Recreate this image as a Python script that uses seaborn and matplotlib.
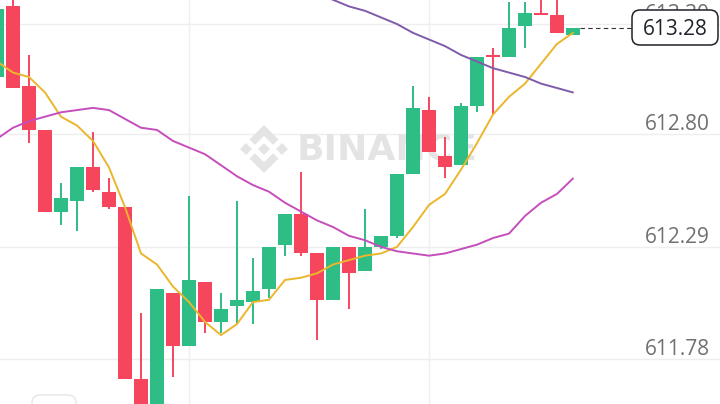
import numpy as np
import pandas as pd
import matplotlib
matplotlib.use("Agg")
import matplotlib.pyplot as plt
import matplotlib.transforms as mtransforms
from matplotlib.patches import Polygon, FancyBboxPatch
import seaborn as sns

# ---- data ----
opens = [613.06, 613.38, 613.02, 612.82, 612.45, 612.50, 612.65, 612.54, 612.47, 611.69,
         611.48, 612.08, 611.84, 612.13, 611.95, 612.02, 612.04, 612.10, 612.30, 612.44,
         612.26, 612.05, 612.29, 612.18, 612.29, 612.34, 612.62, 612.91, 612.70, 612.66,
         612.93, 613.16, 613.15, 613.29, 613.35, 613.34, 613.25]
highs = [613.37, 613.43, 613.16, 612.82, 612.58, 612.65, 612.81, 612.60, 612.47, 611.99,
         612.10, 612.08, 612.52, 612.13, 612.08, 612.50, 612.24, 612.29, 612.44, 612.63,
         612.26, 612.29, 612.29, 612.46, 612.34, 612.62, 613.02, 612.97, 612.79, 612.94,
         613.15, 613.19, 613.40, 613.40, 613.44, 613.44, 613.28]
lows = [613.06, 613.01, 612.76, 612.45, 612.39, 612.36, 612.54, 612.46, 611.69, 611.50,
        611.47, 611.70, 611.84, 611.90, 611.90, 611.94, 611.94, 612.06, 612.25, 612.25,
        611.87, 612.05, 612.01, 612.18, 612.28, 612.33, 612.62, 612.72, 612.60, 612.66,
        612.90, 612.89, 613.15, 613.19, 613.34, 613.26, 613.25]
closes = [613.37, 613.01, 612.82, 612.45, 612.51, 612.65, 612.55, 612.47, 611.69, 611.51,
          612.10, 611.84, 612.14, 611.95, 612.01, 612.05, 612.09, 612.29, 612.44, 612.26,
          612.05, 612.29, 612.17, 612.29, 612.34, 612.62, 612.92, 612.72, 612.65, 612.93,
          613.15, 613.15, 613.28, 613.35, 613.34, 613.26, 613.28]
ma7 = [613.13, 613.08, 613.06, 612.99, 612.88, 612.84, 612.77, 612.65, 612.47, 612.26,
       612.21, 612.11, 612.04, 611.95, 611.89, 611.94, 612.04, 612.05, 612.14, 612.15,
       612.17, 612.21, 612.23, 612.25, 612.26, 612.29, 612.38, 612.48, 612.53, 612.64,
       612.76, 612.89, 612.97, 613.03, 613.12, 613.21, 613.26]
ma25 = [612.78, 612.83, 612.86, 612.88, 612.90, 612.91, 612.92, 612.91, 612.87, 612.83,
        612.82, 612.77, 612.74, 612.71, 612.66, 612.61, 612.57, 612.54, 612.49, 612.45,
        612.41, 612.38, 612.34, 612.32, 612.29, 612.27, 612.26, 612.25, 612.26, 612.28,
        612.30, 612.33, 612.35, 612.43, 612.49, 612.53, 612.60]
ma99_start = 19
ma99 = [613.46, 613.44, 613.41, 613.38, 613.36, 613.33, 613.30, 613.26, 613.23, 613.20,
        613.16, 613.13, 613.10, 613.08, 613.06, 613.03, 613.01, 612.99]
price_ticks = [611.78, 612.29, 612.80, 613.30]
price_labels = ["611.78", "612.29", "612.80", "613.30"]
time_grid = [12, 27]

UP, DOWN = "#2EBD85", "#F6465D"
C7, C25, C99 = "#EBB62C", "#C54EBC", "#7F5CAA"

sns.set_theme(style="white")
plt.rcParams['font.family'] = ['Open Sans', 'DejaVu Sans']

n = len(opens)
pos = np.arange(n)
df = pd.DataFrame({"pos": pos, "open": opens, "high": highs, "low": lows,
                   "close": closes, "ma7": ma7, "ma25": ma25})
df99 = pd.DataFrame({"pos": np.arange(ma99_start, ma99_start + len(ma99)), "ma99": ma99})

W, H = 720, 404
fig = plt.figure(figsize=(W / 100, H / 100), dpi=100)
ax = fig.add_axes([0, 0, 1, 1])
for s in ax.spines.values():
    s.set_visible(False)

ident = mtransforms.IdentityTransform()

# watermark (below the candles)
cx, cy, r = 264, H - 149, 24
def shape(pts):
    return [(cx + r * u, cy + r * v) for u, v in pts]
wm = "#E4E4E4"
logo = [
    [(0, 0.25), (0.25, 0), (0, -0.25), (-0.25, 0)],
    [(0.75, 0.25), (1.0, 0), (0.75, -0.25), (0.5, 0)],
    [(-0.75, 0.25), (-0.5, 0), (-0.75, -0.25), (-1.0, 0)],
    [(0, 1), (0.6, 0.4), (0.375, 0.175), (0, 0.55), (-0.375, 0.175), (-0.6, 0.4)],
    [(0, -1), (0.6, -0.4), (0.375, -0.175), (0, -0.55), (-0.375, -0.175), (-0.6, -0.4)],
]
for p in logo:
    ax.add_patch(Polygon(shape(p), closed=True, fc=wm, ec="none",
                         transform=ident, zorder=1, clip_on=False))
ax.text(297 / W, 1 - 150 / H, "BINANCE", family="DejaVu Sans", weight="bold",
        fontsize=26, color=wm, ha="left", va="center", zorder=1,
        transform=ax.transAxes)

# candles
up = df["close"] >= df["open"]
cols = np.where(up, UP, DOWN)
bottoms = np.minimum(df["open"], df["close"])
heights = np.maximum(np.abs(df["close"] - df["open"]), 0.006)
ax.vlines(df["pos"], df["low"], df["high"], colors=cols, lw=1.4, zorder=2.5)
ax.bar(df["pos"], heights, bottom=bottoms, width=0.82, color=cols, lw=0, zorder=3)

# moving averages
sns.lineplot(data=df, x="pos", y="ma7", ax=ax, color=C7, lw=1.4, zorder=4)
sns.lineplot(data=df, x="pos", y="ma25", ax=ax, color=C25, lw=1.4, zorder=4)
sns.lineplot(data=df99, x="pos", y="ma99", ax=ax, color=C99, lw=1.4, zorder=4)

ax.set_xlim(0.1875, 45.1875)
ax.set_ylim(611.5777, 613.409)
ax.set_xlabel("")
ax.set_ylabel("")

# grid
ax.set_yticks(price_ticks)
ax.set_xticks(time_grid)
ax.set_yticklabels([])
ax.set_xticklabels([])
ax.tick_params(length=0)
ax.grid(True, color="#EEEEEE", lw=1)
ax.set_axisbelow(True)

# price axis labels (inside the plot, right side)
blend = mtransforms.blended_transform_factory(ax.transAxes, ax.transData)
for v, lab in zip(price_ticks, price_labels):
    ax.annotate(lab, xy=(1, v), xycoords=blend, xytext=(-10, 4),
                textcoords="offset pixels", ha="right", va="baseline",
                fontsize=15, color="#707070", zorder=5)

# current price line and tag
last = closes[-1]
ax.axhline(last, xmin=580 / W, xmax=632 / W, color="#333333", lw=0.8,
           ls=(0, (4, 3)), zorder=5)
ax.add_patch(FancyBboxPatch((632, H - 45), 86, 35,
                            boxstyle="round,pad=0,rounding_size=8",
                            fc="white", ec="#1E2329", lw=1.1,
                            transform=ident, zorder=6, clip_on=False))
ax.annotate(f"{last:.2f}", xy=(675.5 / W, last), xycoords=blend, xytext=(0, -7),
            textcoords="offset pixels", ha="center", va="baseline",
            fontsize=15, color="#1E2329", zorder=7)

# partial time tag at the bottom
ax.add_patch(FancyBboxPatch((32, -25), 44, 34,
                            boxstyle="round,pad=0,rounding_size=8",
                            fc="white", ec="#E6E6E6", lw=1,
                            transform=ident, zorder=6, clip_on=False))

fig.savefig("out.png", dpi=100)
